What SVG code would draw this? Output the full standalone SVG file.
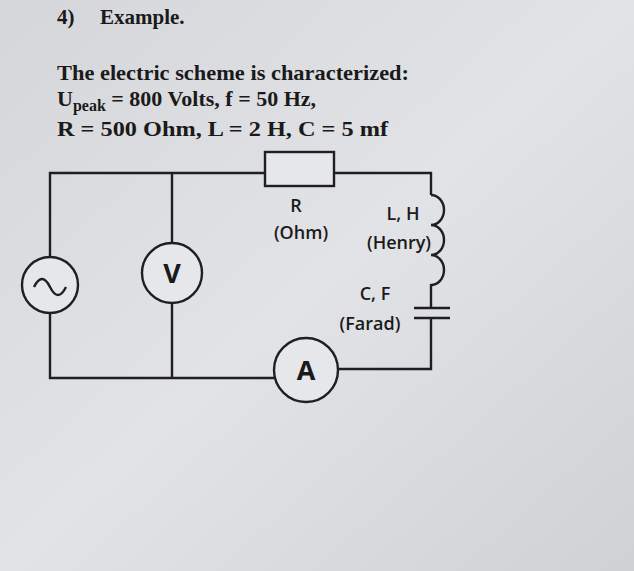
<svg xmlns="http://www.w3.org/2000/svg" width="634" height="571" viewBox="0 0 634 571">
<defs>
<linearGradient id="bg" x1="0" y1="0" x2="1" y2="1">
<stop offset="0" stop-color="#d4d6da"/><stop offset="0.5" stop-color="#e2e3e6"/><stop offset="1" stop-color="#d0d1d4"/>
</linearGradient>
</defs>
<style>
.t{font-family:"Liberation Serif",serif;font-weight:bold;font-size:21px;fill:#1a1a1a}
.s{font-family:"Open Sans","Liberation Sans",sans-serif;font-weight:600;font-size:18px;fill:#1a1a1a}
.big{font-size:27px;font-weight:700}
.w{fill:none;stroke:#1f1f1f;stroke-width:2.4}
.c{fill:#e6e7ea;stroke:#1f1f1f;stroke-width:2.4}
</style>
<rect width="634" height="571" fill="url(#bg)"/>
<text class="t" x="57" y="24">4)</text><text class="t" x="100" y="24">Example.</text>
<text class="t" x="57" y="80" textLength="352" lengthAdjust="spacingAndGlyphs">The electric scheme is characterized:</text>
<text class="t" x="57" y="106" style="font-size:22px">U<tspan style="font-size:16px" dy="5">peak</tspan><tspan dy="-5"> = 800 Volts, f = 50 Hz,</tspan></text>
<text class="t" x="57" y="136" textLength="331" lengthAdjust="spacingAndGlyphs">R = 500 Ohm, L = 2 H, C = 5 mf</text>
<g id="connectors">
<path class="w" d="M265,173 H50 V378 H274 M338,369 H431 V318 M431,308 V284 M431,195 V173 H334 M172,173 V378"/>
</g>
<g id="R"><rect class="c" x="265" y="152" width="69" height="34"/></g>
<g id="L"><path class="w" d="M431,195 a13,15 0 1 1 0,30 a13,15 0 1 1 0,30 a13,15 0 1 1 0,30"/></g>
<g id="C"><path class="w" d="M414,308 H450 M414,318 H450"/></g>
<g id="source"><circle class="c" cx="50" cy="285" r="28"/><path class="w" d="M34,287 q8,-16 16,0 t16,0"/></g>
<g id="V"><circle class="c" cx="172" cy="273" r="30"/><text class="s big" x="172" y="283" text-anchor="middle">V</text></g>
<g id="A"><circle class="c" cx="306" cy="370" r="32"/><text class="s big" x="306" y="380" text-anchor="middle">A</text></g>
<g id="labels">
<text class="s" x="296" y="212" text-anchor="middle">R</text>
<text class="s" x="301" y="239" text-anchor="middle">(Ohm)</text>
<text class="s" x="403" y="220" text-anchor="middle">L, H</text>
<text class="s" x="399" y="249" text-anchor="middle">(Henry)</text>
<text class="s" x="375" y="300" text-anchor="middle">C, F</text>
<text class="s" x="370" y="330" text-anchor="middle">(Farad)</text>
</g>
</svg>
